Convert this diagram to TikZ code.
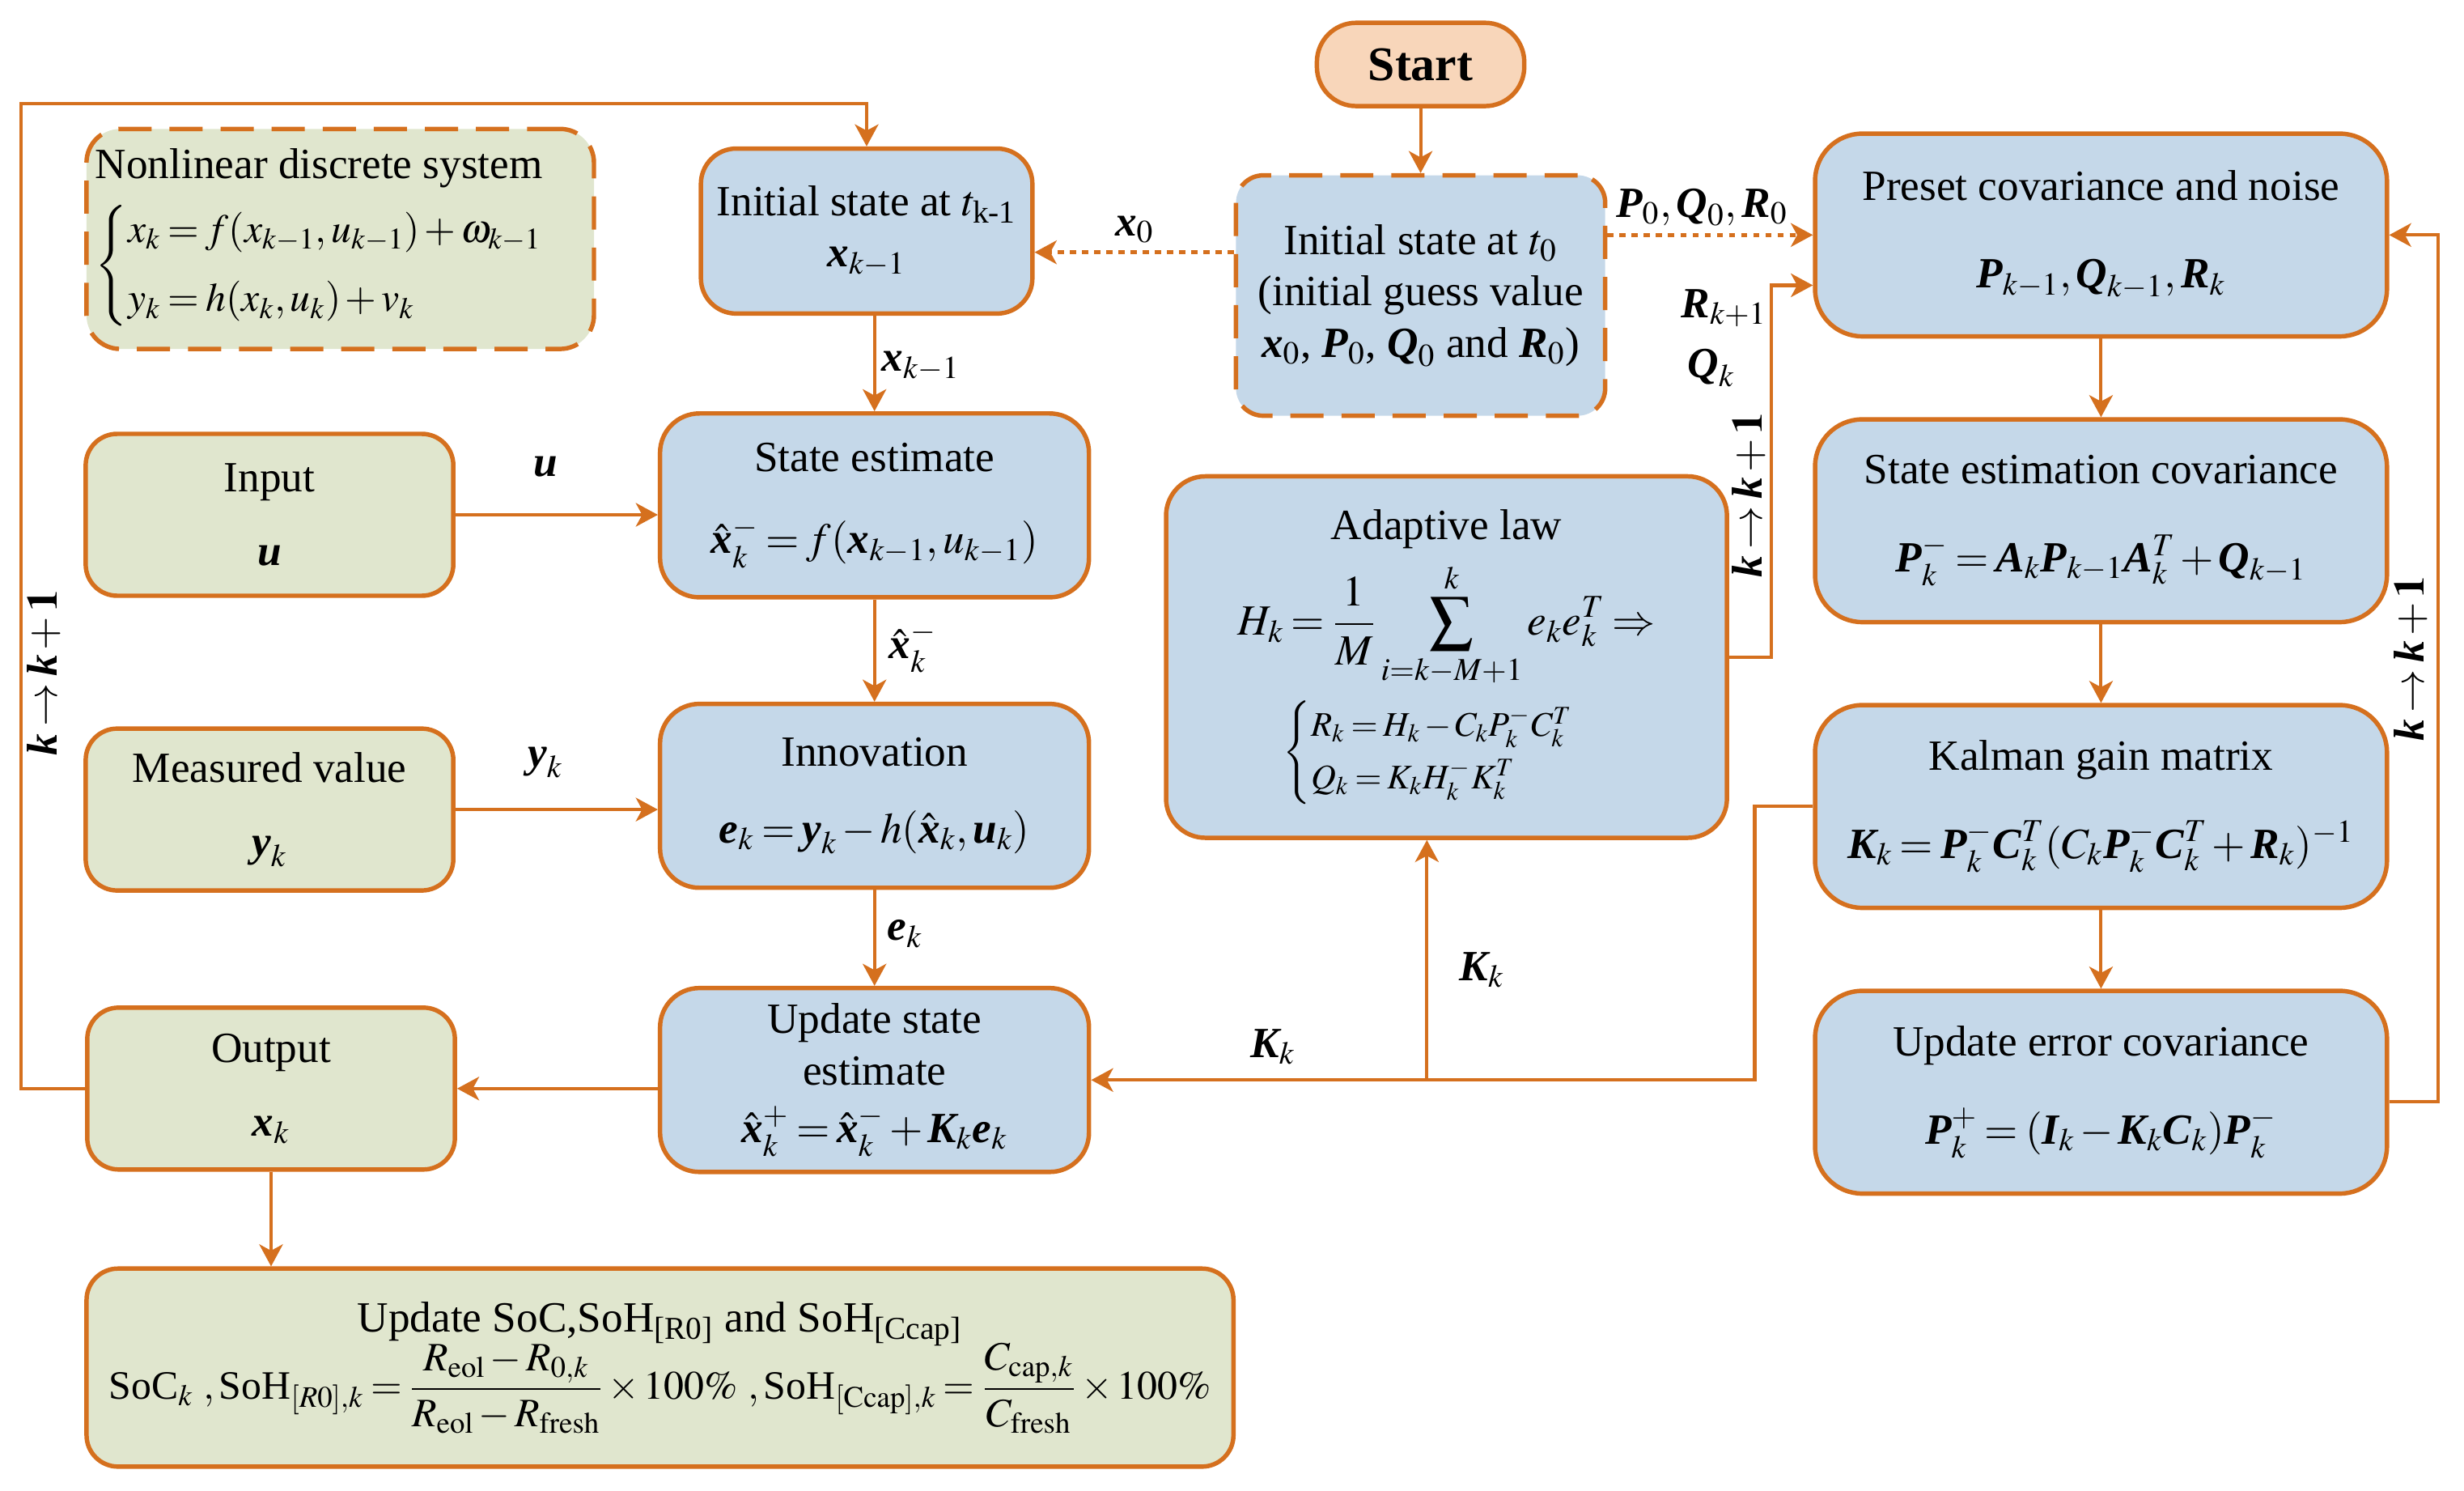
\documentclass[tikz,border=0pt]{standalone}
\usepackage{amsmath}
\usepackage{mathptmx}
\usepackage{fontspec}
\setmainfont{Liberation Serif}
\usetikzlibrary{positioning,calc,arrows.meta}

\definecolor{kforange}{HTML}{D5701E}
\definecolor{kfblue}{HTML}{C5D8E9}
\definecolor{kfgreen}{HTML}{E0E6CE}
\definecolor{kfpeach}{HTML}{F8D6BA}

\newcommand{\bfit}[1]{\text{\bfseries\itshape #1}}
\newcommand{\kstep}{$\bfit{k}\rightarrow\bfit{k}+\mathbf{1}$}
\newcommand{\tightmath}{\medmuskip=2mu plus 1mu minus 1mu\thickmuskip=3mu plus 1mu minus 1mu}

\tikzset{
	box/.style={draw=kforange, line width=1.6pt, rounded corners=0.5cm, align=center, inner sep=2pt, font=\fontsize{15.6}{18.7}\selectfont\tightmath},
	bluebox/.style={box, fill=kfblue},
	greenbox/.style={box, fill=kfgreen},
	dashbox/.style={dash pattern=on 12pt off 6.5pt},
	src/.style={greenbox, minimum width=4.68cm, minimum height=2.06cm, rounded corners=0.4cm},
	flt/.style={bluebox, minimum width=5.46cm, minimum height=2.34cm},
	cov/.style={bluebox, minimum width=7.28cm, minimum height=2.58cm, rounded corners=0.6cm},
	arr/.style={draw=kforange, line width=1.2pt, -{Stealth[length=2.8mm,width=3mm,inset=0.8mm]}},
	dotarr/.style={arr, line width=1.6pt, dash pattern=on 2.2pt off 2.2pt},
	lbl/.style={inner sep=1pt, font=\fontsize{15.6}{18.7}\selectfont\tightmath},
}

\begin{document}
\begin{tikzpicture}[x=0.02cm, y=-0.02cm, node distance=1.0cm]
	\useasboundingbox (0,0) rectangle (1568,948.5);

	% start and initial values
	\node [box, fill=kfpeach, minimum width=2.64cm, minimum height=1.06cm, font=\fontsize{17.5}{20}\selectfont\bfseries] (start) at (904,41) {Start};
	\node [bluebox, dashbox, minimum width=4.7cm, minimum height=3.06cm, rounded corners=0.35cm] (init0) at (904,188) {Initial state at $t_0$\\(initial guess value\\$\bfit{x}_0$, $\bfit{P}_0$, $\bfit{Q}_0$ and $\bfit{R}_0$)};
	\node [bluebox, minimum width=4.22cm, minimum height=2.1cm, rounded corners=0.45cm] (initk) at (551.5,147) {Initial state at $t_{\text{k-1}}$\\[0pt]$\bfit{x}_{k-1}$};
	\node [greenbox, dashbox, align=left, minimum width=6.46cm, minimum height=2.8cm, rounded corners=0.43cm] (nonlin) at (216.5,152) {Nonlinear discrete system\\[4pt]{\fontsize{14.6}{17.5}\selectfont$\begin{cases} x_k=f(x_{k-1},u_{k-1})+\omega_{k-1}\\[4pt] y_k=h(x_k,u_k)+v_k\end{cases}$}};

	% measured side
	\node [src] (input) at (171.5,327.5) {Input\\[8pt]$\bfit{u}$};
	\node [src] (meas) at (171.5,515) {Measured value\\[8pt]$\bfit{y}_k$};
	\node [src] (output) at (172.5,692.5) {Output\\[8pt]$\bfit{x}_k$};
	\node [greenbox, minimum width=14.6cm, minimum height=2.52cm, rounded corners=0.4cm] (soc) at (420,870) {Update SoC,SoH$_{\text{[R0]}}$ and SoH$_{\text{[Ccap]}}$\\[-2pt]{\fontsize{14.6}{17.5}\selectfont$\displaystyle \text{SoC}_k\ ,\text{SoH}_{[R0],k}=\frac{R_{\mathrm{eol}}-R_{0,k}}{R_{\mathrm{eol}}-R_{\mathrm{fresh}}}\times100\%\ ,\text{SoH}_{[\mathrm{Ccap}],k}=\frac{C_{\mathrm{cap},k}}{C_{\mathrm{fresh}}}\times100\%$}};

	% filter steps
	\node [flt] (state) at (556.5,321.5) {State estimate\\[11pt]$\hat{\bfit{x}}_k^-=f(\bfit{x}_{k-1},u_{k-1})$};
	\node [flt] (innov) [below=1.3cm of state] {Innovation\\[9pt]$\bfit{e}_k=\bfit{y}_k-h(\hat{\bfit{x}}_k,\bfit{u}_k)$};
	\node [flt] (update) [below=1.22cm of innov] {Update state\\estimate\\[2pt]$\hat{\bfit{x}}_k^+=\hat{\bfit{x}}_k^-+\bfit{K}_k\bfit{e}_k$};

	% adaptive law
	\node [bluebox, minimum width=7.14cm, minimum height=4.6cm] (adapt) at (920.5,418) {Adaptive law\\[4pt]$\displaystyle H_k=\frac{1}{M}\sum_{i=k-M+1}^{k}e_ke_k^T\Rightarrow$\\[4pt]{\fontsize{12.5}{15}\selectfont$\begin{cases}R_k=H_k-C_kP_k^-C_k^T\\[1pt]Q_k=K_kH_k^-K_k^T\end{cases}$}};

	% covariance steps
	\node [cov] (preset) at (1337,149.5) {Preset covariance and noise\\[13pt]$\bfit{P}_{k-1},\bfit{Q}_{k-1},\bfit{R}_k$};
	\node [cov] (sec) [below=of preset] {State estimation covariance\\[13pt]$\bfit{P}_k^-=\bfit{A}_k\bfit{P}_{k-1}\bfit{A}_k^T+\bfit{Q}_{k-1}$};
	\node [cov] (kalman) [below=of sec] {Kalman gain matrix\\[13pt]$\bfit{K}_k=\bfit{P}_k^-\bfit{C}_k^T(C_k\bfit{P}_k^-\bfit{C}_k^T+\bfit{R}_k)^{-1}$};
	\node [cov] (uec) [below=of kalman] {Update error covariance\\[13pt]$\bfit{P}_k^+=(\bfit{I}_k-\bfit{K}_k\bfit{C}_k)\bfit{P}_k^-$};

	% helper points
	\coordinate (x0in) at ([yshift=-0.27cm]initk.east);
	\coordinate (looptop) at (13.5,66);
	\coordinate (kin) at ([xshift=-0.25cm]adapt.south);
	\coordinate (rin) at ([yshift=-0.64cm]preset.west);

	% connectors
	\draw [arr] (start) -- (init0);
	\draw [dotarr] (init0.west |- x0in) -- (x0in);
	\draw [dotarr] (init0.east |- preset.west) -- (preset.west);
	\draw [arr] (initk.south -| state.north) -- (state.north);
	\draw [arr] (input) -- (input -| state.west);
	\draw [arr] (state) -- (innov);
	\draw [arr] (meas) -- (meas -| innov.west);
	\draw [arr] (innov) -- (update);
	\draw [arr] (update.west |- output) -- (output);
	\draw [arr] (output.south) -- (output.south |- soc.north);
	\draw [arr] (output.west) -| (looptop) -| (initk.north);
	\draw [arr] (kalman.west) -- ++(-37,0) |- (update.east);
	\draw [arr] (kin |- update.east) -- (kin);
	\draw [arr] (adapt.east) -- ++(27,0) |- (rin);
	\draw [arr] (preset) -- (sec);
	\draw [arr] (sec) -- (kalman);
	\draw [arr] (kalman) -- (uec);
	\draw [arr] ([yshift=-0.12cm]uec.east) -- ++(31,0) |- (preset.east);

	% labels
	\node [lbl] (lblx0) at (722,146) {$\bfit{x}_0$};
	\node [lbl] (lblpqr) at (1083,132) {$\bfit{P}_0,\bfit{Q}_0,\bfit{R}_0$};
	\node [lbl] (lblxk) at (586,233) {$\bfit{x}_{k-1}$};
	\node [lbl] (lblu) at (347,297) {$\bfit{u}$};
	\node [lbl] (lblxhat) at (581,412) {$\hat{\bfit{x}}_k^-$};
	\node [lbl] (lbly) at (347,485) {$\bfit{y}_k$};
	\node [lbl] (lble) at (576,594) {$\bfit{e}_k$};
	\node [lbl] (lblk) at (810,666) {$\bfit{K}_k$};
	\node [lbl] (lblkup) at (943,617) {$\bfit{K}_k$};
	\node [lbl] (lblr) at (1097,196) {$\bfit{R}_{k+1}$};
	\node [lbl] (lblq) at (1089,234) {$\bfit{Q}_k$};
	\node [lbl, rotate=90] (stepleft) at (28,428) {\kstep};
	\node [lbl, rotate=90] (stepmid) at (1113,315) {\kstep};
	\node [lbl, rotate=90] (stepright) at (1534,419) {\kstep};
\end{tikzpicture}
\end{document}
